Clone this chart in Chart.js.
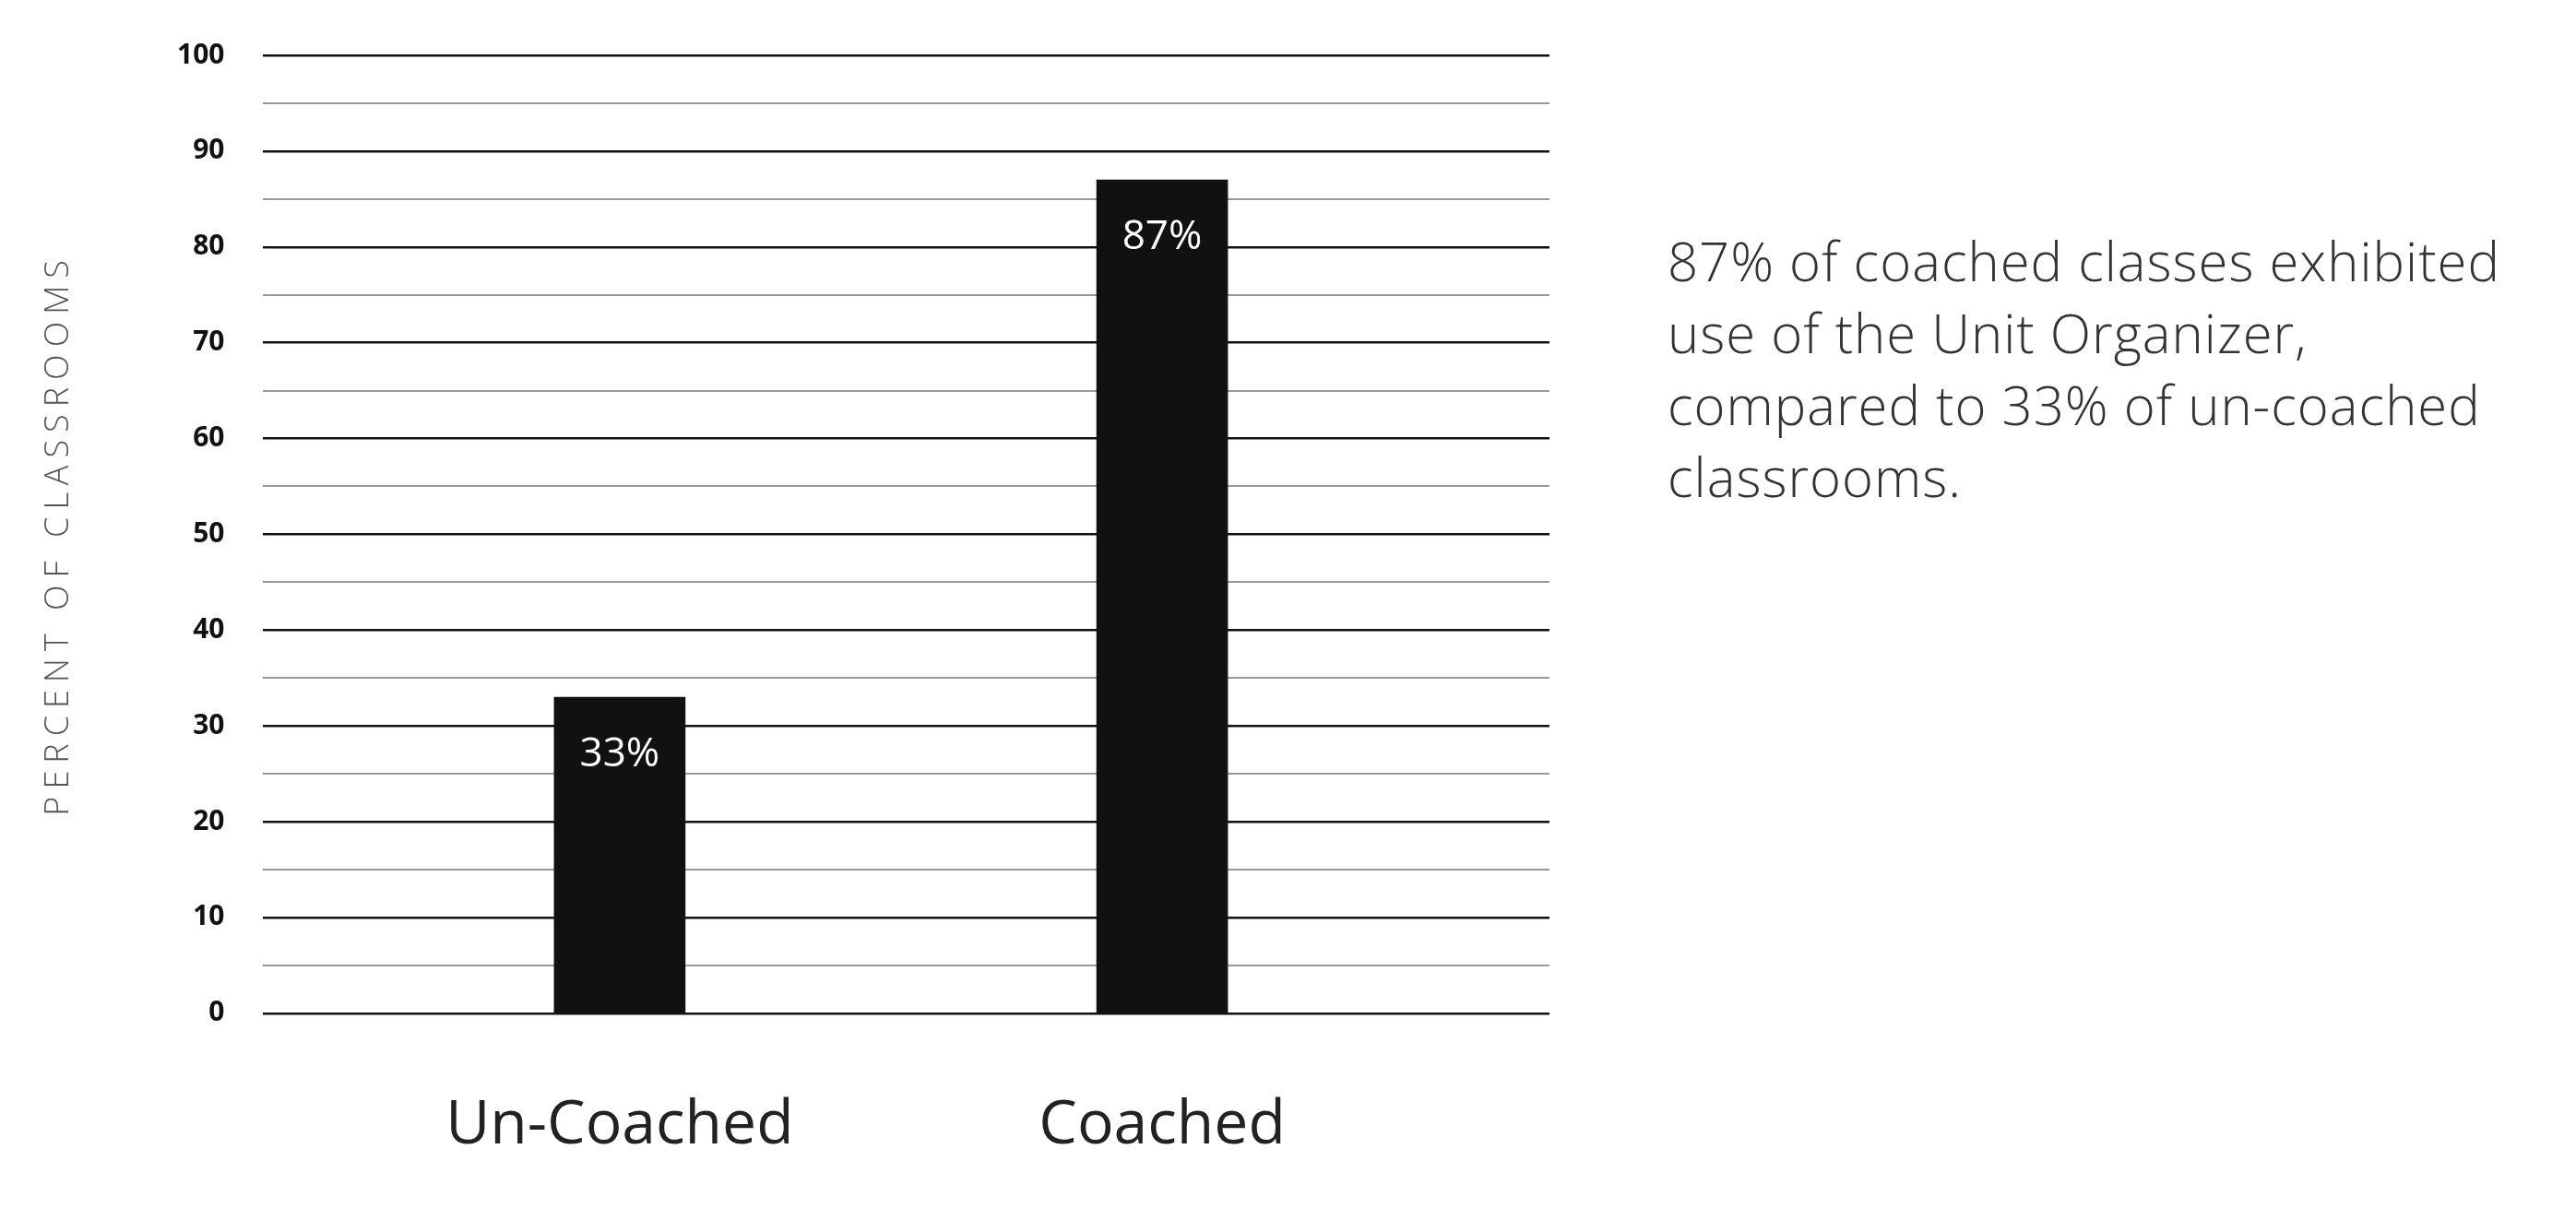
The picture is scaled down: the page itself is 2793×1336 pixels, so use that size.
<!DOCTYPE html>
<html>
<head>
<meta charset="utf-8">
<script src="https://cdn.jsdelivr.net/npm/chart.js@4"></script>
<style>
  body { margin: 0; background: #fff; }
  #wrap { position: absolute; left: 0; top: 0; width: 1720px; height: 1336px; }
  #note { position: absolute; left: 1808px; top: 244px; width: 980px;
          font-family: "Open Sans", sans-serif; font-weight: 300; font-size: 58px;
          letter-spacing: 1px; line-height: 78px; color: #333; }
</style>
</head>
<body>
<div id="wrap"><canvas id="chart"></canvas></div>
<div id="note">87% of coached classes exhibited<br>use of the Unit Organizer,<br>compared to 33% of un-coached<br>classrooms.</div>
<script>
// ===== DATA =====
const categories = ["Un-Coached", "Coached"];
const positions = [1, 2];
const values = [33, 87];

// ===== PLUGINS =====
const barLabels = {
  id: "barLabels",
  afterDatasetsDraw(chart) {
    const c = chart.ctx;
    const meta = chart.getDatasetMeta(0);
    c.save();
    c.fillStyle = "#fff";
    c.font = "44px 'Open Sans', sans-serif";
    c.textAlign = "center";
    c.textBaseline = "middle";
    meta.data.forEach((bar, i) => {
      c.fillText(values[i] + "%", bar.x, bar.y + 62);
    });
    c.restore();
  }
};

const yTitle = {
  id: "yTitle",
  afterDraw(chart) {
    const c = chart.ctx;
    const a = chart.chartArea;
    c.save();
    c.translate(64, (a.top + a.bottom) / 2);
    c.rotate(-Math.PI / 2);
    c.fillStyle = "#555";
    c.font = "300 36px 'Open Sans', sans-serif";
    c.letterSpacing = "8px";
    c.textAlign = "center";
    c.textBaseline = "middle";
    c.fillText("PERCENT OF CLASSROOMS", 0, 0);
    c.restore();
  }
};

// ===== CHART =====
const ctx = document.getElementById("chart").getContext("2d");
new Chart(ctx, {
  type: "bar",
  data: {
    datasets: [{
      data: positions.map((p, i) => ({ x: p, y: values[i] })),
      backgroundColor: "#111",
      barThickness: 142
    }]
  },
  plugins: [barLabels, yTitle],
  options: {
    responsive: true,
    maintainAspectRatio: false,
    animation: false,
    layout: { padding: { left: 150, top: 0, right: 40, bottom: 0 } },
    plugins: { legend: { display: false }, tooltip: { enabled: false } },
    scales: {
      x: {
        type: "linear",
        offset: false,
        min: 0.343,
        max: 2.714,
        afterBuildTicks: axis => { axis.ticks = positions.map(v => ({ value: v })); },
        ticks: {
          callback: v => categories[positions.indexOf(v)],
          color: "#222",
          font: { family: "Open Sans", size: 66 },
          padding: 75,
          maxRotation: 0
        },
        grid: { display: false },
        border: { display: false }
      },
      y: {
        min: 0,
        max: 100,
        ticks: {
          stepSize: 5,
          callback: v => (v % 10 === 0 ? v : ""),
          color: "#111",
          font: { family: "Open Sans", size: 30, weight: "700" },
          padding: 42
        },
        grid: {
          drawTicks: false,
          color: c => (c.tick.value % 10 === 0 ? "#111" : "#999"),
          lineWidth: c => (c.tick.value % 10 === 0 ? 2.5 : 2)
        },
        border: { display: false }
      }
    }
  }
});
</script>
</body>
</html>
